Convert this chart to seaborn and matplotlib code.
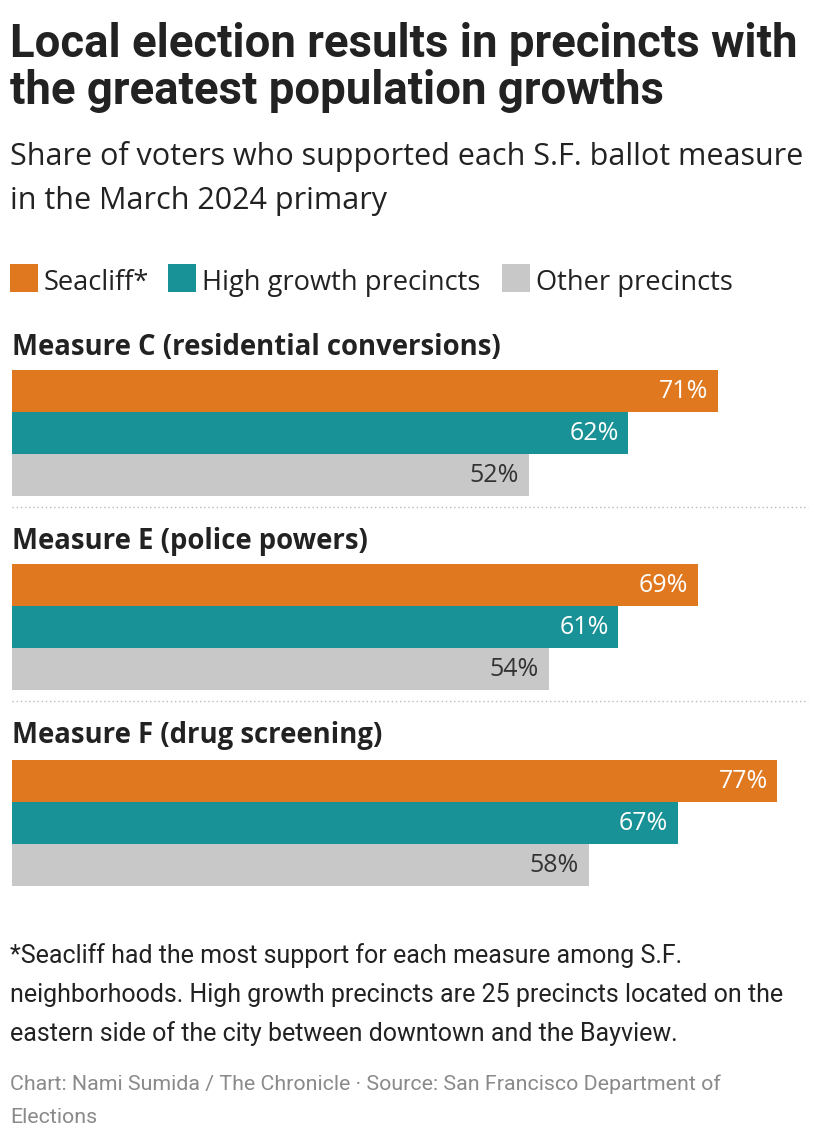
import pandas as pd
import numpy as np
import seaborn as sns
import matplotlib
matplotlib.use("Agg")
import matplotlib.pyplot as plt
from matplotlib.lines import Line2D
from matplotlib.patches import Rectangle

# data
measures = ["Measure C (residential conversions)", "Measure E (police powers)", "Measure F (drug screening)"]
groups = ["Seacliff*", "High growth precincts", "Other precincts"]
seacliff = [71, 69, 77]
high_growth = [62, 61, 67]
other = [52, 54, 58]

colors = ["#E07820", "#189296", "#C8C8C8"]
label_colors = ["white", "white", "#333333"]

sns.set_theme(style="white")
plt.rcParams['font.family'] = ['Open Sans', 'DejaVu Sans']

W, H = 820, 1144
fig = plt.figure(figsize=(W / 100, H / 100), dpi=100)


def fy(y):
    return 1 - y / H


def fx(x):
    return x / W


# title + subtitle
fig.text(fx(10), fy(57), "Local election results in precincts with", fontsize=32.8, fontweight="bold",
         family="Roboto", color="#222222", va="baseline")
fig.text(fx(10), fy(104), "the greatest population growths", fontsize=32.8, fontweight="bold",
         family="Roboto", color="#222222", va="baseline")
fig.text(fx(10), fy(165), "Share of voters who supported each S.F. ballot measure", fontsize=22,
         color="#222222", va="baseline")
fig.text(fx(10), fy(209), "in the March 2024 primary", fontsize=22, color="#222222", va="baseline")

# legend
leg_x = [10, 168, 502]
for i, g in enumerate(groups):
    fig.add_artist(Rectangle((fx(leg_x[i]), fy(292)), 28 / W, 28 / H, transform=fig.transFigure,
                             facecolor=colors[i], edgecolor="none"))
    fig.text(fx(leg_x[i] + 34), fy(290), g, fontsize=19.6, color="#222222", va="baseline")

# one panel per measure
df = pd.DataFrame({
    "measure": np.repeat(measures, 3),
    "group": groups * 3,
    "value": [v for trio in zip(seacliff, high_growth, other) for v in trio],
})

tops = [370, 564, 760]
heading_base = [355, 549, 743]
for k, m in enumerate(measures):
    sub = df[df["measure"] == m]
    ax = fig.add_axes([fx(12), fy(tops[k] + 126), 808 / W, 126 / H])
    sns.barplot(data=sub, y="group", x="value", hue="group", palette=colors, order=groups,
                hue_order=groups, width=1.0, legend=False, saturation=1, linewidth=0, ax=ax)
    ax.set_xlim(0, 808 / 9.94)
    ax.set_ylim(2.5, -0.5)
    ax.axis("off")
    for i, v in enumerate(sub["value"]):
        ax.annotate(f"{v}%", xy=(v, i), xytext=(-7, 0), textcoords="offset points",
                    ha="right", va="center", fontsize=18, color=label_colors[i])
    fig.text(fx(12), fy(heading_base[k]), m, fontsize=19.8, fontweight="bold", color="#222222",
             va="baseline")

# dotted separators
for y in [507, 701]:
    fig.add_artist(Line2D([fx(12), fx(808)], [fy(y), fy(y)], transform=fig.transFigure,
                          color="#BBBBBB", linestyle=(0, (1, 2)), linewidth=1))

# notes
notes = ["*Seacliff had the most support for each measure among S.F.",
         "neighborhoods. High growth precincts are 25 precincts located on the",
         "eastern side of the city between downtown and the Bayview."]
for y, t in zip([963, 1002, 1041], notes):
    fig.text(fx(10), fy(y), t, fontsize=18, family="Roboto", color="#222222", va="baseline")

credits = ["Chart: Nami Sumida / The Chronicle \u00b7 Source: San Francisco Department of",
           "Elections"]
for y, t in zip([1090, 1123], credits):
    fig.text(fx(10), fy(y), t, fontsize=15.4, family="Roboto", color="#8A8A8A", va="baseline")

fig.savefig("out.png", dpi=100)
